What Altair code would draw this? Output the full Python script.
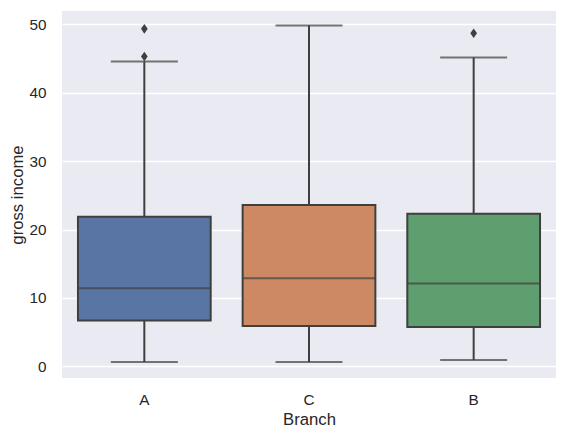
import altair as alt
import pandas as pd

branches = ["A", "C", "B"]
lower = [0.63, 0.63, 0.93]
q1 = [6.69, 5.90, 5.76]
median = [11.42, 12.88, 12.10]
q3 = [21.86, 23.57, 22.30]
upper = [44.55, 49.83, 45.14]
colors = ["#5975a4", "#cc8963", "#5f9e6e"]

outlier_branch = ["A", "A", "B"]
outlier_value = [49.34, 45.30, 48.70]

y_ticks = [0, 10, 20, 30, 40, 50]

stats = pd.DataFrame({"Branch": branches, "lower": lower, "q1": q1,
                      "median": median, "q3": q3, "upper": upper})
outs = pd.DataFrame({"Branch": outlier_branch, "value": outlier_value})

LINE = "#3f3f3f"
FONT = "Liberation Sans"
TXT = "#262626"

x_enc = alt.X("Branch:N", sort=branches,
              scale=alt.Scale(paddingInner=0, paddingOuter=0),
              axis=alt.Axis(title="Branch", labelAngle=0, domain=False, ticks=False,
                            tickSize=0, grid=False, labelFontSize=15.3, labelFont=FONT,
                            labelColor=TXT, labelPadding=26, labelBaseline="alphabetic",
                            titleFontSize=16.7, titleFont=FONT, titleColor=TXT,
                            titleFontWeight="normal", titleX=247, titleY=46,
                            titleBaseline="alphabetic", titleAlign="center"))
yscale = alt.Scale(domain=[-1.71, 51.95], nice=False, zero=False)
y_axis = alt.Axis(title="gross income", values=y_ticks, domain=False, ticks=False,
                  tickSize=0, grid=True, gridColor="white", gridWidth=1.4,
                  labelFontSize=15.3, labelFont=FONT, labelColor=TXT, labelPadding=16,
                  titleFontSize=16.7, titleFont=FONT, titleColor=TXT,
                  titleFontWeight="normal", titleX=-45, titleY=183.5,
                  titleAlign="center", titleBaseline="middle", titleAngle=270)

base = alt.Chart(stats)

whisk = base.mark_rule(color=LINE, strokeWidth=2).encode(
    x=x_enc, y=alt.Y("lower:Q", scale=yscale, axis=y_axis), y2="upper:Q")
caps_hi = base.mark_tick(color=LINE, size=67, thickness=2).encode(
    x=alt.X("Branch:N", sort=branches), y=alt.Y("upper:Q", scale=yscale))
caps_lo = base.mark_tick(color=LINE, size=67, thickness=2).encode(
    x=alt.X("Branch:N", sort=branches), y=alt.Y("lower:Q", scale=yscale))
box = base.mark_bar(stroke=LINE, strokeWidth=2, width=alt.RelativeBandSize(0.806)).encode(
    x=alt.X("Branch:N", sort=branches), y=alt.Y("q1:Q", scale=yscale), y2="q3:Q",
    color=alt.Color("Branch:N", scale=alt.Scale(domain=branches, range=colors), legend=None))
med = base.mark_tick(color=LINE, size=133, thickness=2).encode(
    x=alt.X("Branch:N", sort=branches), y=alt.Y("median:Q", scale=yscale))
pts = alt.Chart(outs).mark_point(shape="M0,-1L0.7,0L0,1L-0.7,0Z", size=92,
                                 filled=True, color=LINE, opacity=1).encode(
    x=alt.X("Branch:N", sort=branches), y=alt.Y("value:Q", scale=yscale))

chart = alt.layer(whisk, caps_hi, caps_lo, box, med, pts).properties(
    width=494, height=367,
    autosize=alt.AutoSizeParams(type="none"),
    padding={"left": 54, "top": 3, "right": 0, "bottom": 51},
    background="white",
).configure_view(fill="#EAEAF2", stroke=None)

chart.save("out.html", embed_options={"renderer": "svg", "actions": False})
